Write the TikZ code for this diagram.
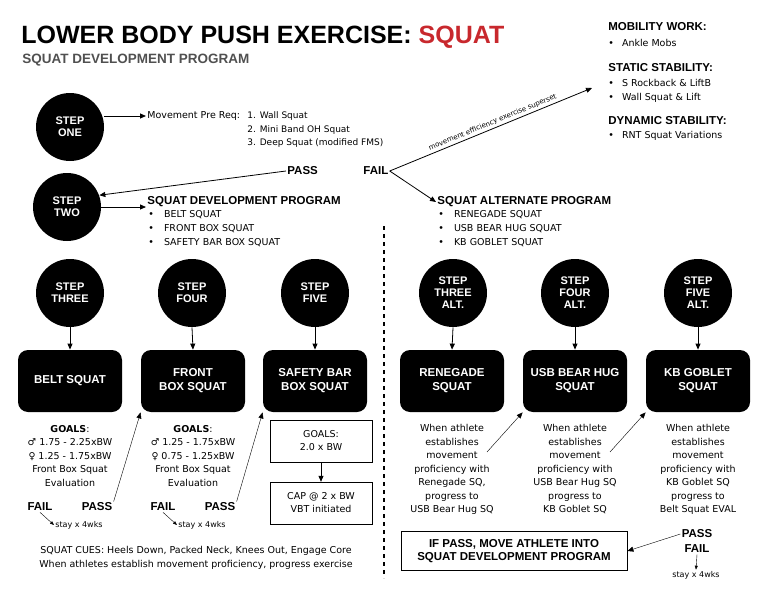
\documentclass[tikz,border=0pt]{standalone}
\usepackage{fontspec}
\setmainfont{DejaVu Sans}
\newfontfamily\headfont{Liberation Sans}
\usetikzlibrary{arrows.meta,positioning,calc}
\definecolor{titlered}{RGB}{200,40,45}
\definecolor{subgray}{RGB}{80,80,80}
\begin{document}
\begin{tikzpicture}[x=1pt, y=-1pt, >={Triangle[length=6pt,width=5pt]}, thick,
  stepnode/.style={circle, fill=black, minimum size=68pt, inner sep=0pt, text=white, align=center, font=\headfont\bfseries\fontsize{11}{12}\selectfont},
  ex/.style={rounded corners=10pt, fill=black, minimum width=104pt, minimum height=62pt, text=white, align=center, font=\headfont\bfseries\fontsize{11.5}{14}\selectfont},
  txt/.style={font=\fontsize{9.5}{13.5}\selectfont, align=center, inner sep=1pt},
  lft/.style={font=\fontsize{9.5}{13.5}\selectfont, align=left, anchor=west, inner sep=1pt},
  hd/.style={font=\headfont\bfseries\fontsize{11.5}{13}\selectfont, anchor=west, inner sep=1pt},
  goal/.style={draw, thin, minimum width=102pt, minimum height=42pt, align=center, font=\fontsize{9.5}{13}\selectfont}]
\useasboundingbox (0,0) rectangle (768,594);
% header
\node[anchor=west, inner sep=0pt, font=\headfont\bfseries\fontsize{25}{28}\selectfont] (title) at (21,37) {LOWER BODY PUSH EXERCISE: \textcolor{titlered}{SQUAT}};
\node[anchor=west, inner sep=0pt, text=subgray, font=\headfont\bfseries\fontsize{13.5}{15}\selectfont] (sub) at (22,60) {SQUAT DEVELOPMENT PROGRAM};
\node[hd] (mob) at (607,27) {MOBILITY WORK:};
\node[lft] (mobl) at (607,43) {\textbullet\hspace{8pt}Ankle Mobs};
\node[hd] (stat) at (607,68) {STATIC STABILITY:};
\node[lft, font=\fontsize{9.5}{14}\selectfont] (statl) at (607,91) {\textbullet\hspace{8pt}S Rockback \& LiftB\\\textbullet\hspace{8pt}Wall Squat \& Lift};
\node[hd] (dyn) at (607,121) {DYNAMIC STABILITY:};
\node[lft] (dynl) at (607,136) {\textbullet\hspace{8pt}RNT Squat Variations};
% step one and two
\node[stepnode] (one) at (70,127) {STEP\\ONE};
\node[lft] (prereq) at (146,116) {Movement Pre Req:};
\node[lft, font=\fontsize{9}{13.5}\selectfont] (reqs) at (246,130) {1. Wall Squat\\2. Mini Band OH Squat\\3. Deep Squat (modified FMS)};
\draw[->] (one.east |- prereq.west) -- (prereq.west);
\node[hd] (pass) at (286,171) {PASS};
\node[hd] (fail) at (362,171) {FAIL};
\node[stepnode] (two) at (67,207) {STEP\\TWO};
\coordinate (super) at (592,88);
\draw[->] (pass.west) -- (two.20);
\draw[->] (fail.east) -- (super) node[pos=0.52, sloped, above, inner sep=2pt, font=\fontsize{7}{8}\selectfont] {movement efficiency exercise superset};
\node[hd] (dev) at (146,202) {SQUAT DEVELOPMENT PROGRAM};
\node[lft, font=\fontsize{9.5}{14}\selectfont] (devl) at (147,229) {\textbullet\hspace{10pt}BELT SQUAT\\\textbullet\hspace{10pt}FRONT BOX SQUAT\\\textbullet\hspace{10pt}SAFETY BAR BOX SQUAT};
\node[hd] (alt) at (436,202) {SQUAT ALTERNATE PROGRAM};
\node[lft, font=\fontsize{9.5}{14}\selectfont] (altl) at (437,229) {\textbullet\hspace{10pt}RENEGADE SQUAT\\\textbullet\hspace{10pt}USB BEAR HUG SQUAT\\\textbullet\hspace{10pt}KB GOBLET SQUAT};
\draw[->] (two.east) -- (dev.west |- two.east);
\draw[->] (fail.east) -- (alt.west);
% divider
\draw[line width=2.5pt, dash pattern=on 4pt off 4pt] (384,226) -- (384,578);
% development steps
\node[stepnode] (three) at (70,293) {STEP\\THREE};
\node[stepnode] (four) at (192,293) {STEP\\FOUR};
\node[stepnode] (five) at (315,293) {STEP\\FIVE};
\node[ex] (belt) at (70,381) {BELT SQUAT};
\node[ex] (front) at (193,381) {FRONT\\BOX SQUAT};
\node[ex] (safety) at (315,381) {SAFETY BAR\\BOX SQUAT};
\foreach \s/\e in {three/belt,four/front,five/safety}
  \draw[->] (\s.south) -- (\e.north);
% alternate steps
\node[stepnode] (threealt) at (453,293) {STEP\\THREE\\ALT.};
\node[stepnode] (fouralt) at (575,293) {STEP\\FOUR\\ALT.};
\node[stepnode] (fivealt) at (698,293) {STEP\\FIVE\\ALT.};
\node[ex] (renegade) at (452,381) {RENEGADE\\SQUAT};
\node[ex] (usb) at (575,381) {USB BEAR HUG\\SQUAT};
\node[ex] (goblet) at (698,381) {KB GOBLET\\SQUAT};
\foreach \s/\e in {threealt/renegade,fouralt/usb,fivealt/goblet}
  \draw[->] (\s.south) -- (\e.north);
% goals
\node[txt, anchor=north] (goalone) at (70,424) {\textbf{GOALS}:\\♂ 1.75 - 2.25xBW\\♀ 1.25 - 1.75xBW\\Front Box Squat\\Evaluation};
\node[txt, anchor=north] (goaltwo) at (193,424) {\textbf{GOALS}:\\♂ 1.25 - 1.75xBW\\♀ 0.75 - 1.25xBW\\Front Box Squat\\Evaluation};
\node[goal] (goalthree) at (321,441) {GOALS:\\2.0 x BW};
\node[goal] (cap) at (321,503) {CAP @ 2 x BW\\VBT initiated};
\draw[->] (goalthree) -- (cap);
\foreach \c/\n/\t in {40/failone/belt, 163/failtwo/front}{
  \node[hd, anchor=center] (\n) at (\c,507) {FAIL};
  \node[font=\fontsize{8}{9}\selectfont, anchor=west, inner sep=1pt] (stay\n) at (\c+14,525) {stay x 4wks};
  \draw[thin, ->, >={Triangle[length=4pt,width=3pt]}] (\n.south) -- (stay\n.west);
}
\node[hd, anchor=center] (passone) at (97,507) {PASS};
\node[hd, anchor=center] (passtwo) at (220,507) {PASS};
\draw[thin, ->] (passone.north east) -- (front.south west);
\draw[thin, ->] (passtwo.north east) -- (safety.south west);
\node[txt] (cues) at (196,558) {SQUAT CUES: Heels Down, Packed Neck, Knees Out, Engage Core\\When athletes establish movement proficiency, progress exercise};
% alternate progressions
\node[txt, anchor=north] (progone) at (452,423) {When athlete\\establishes\\movement\\proficiency with\\Renegade SQ,\\progress to\\USB Bear Hug SQ};
\node[txt, anchor=north] (progtwo) at (575,423) {When athlete\\establishes\\movement\\proficiency with\\USB Bear Hug SQ\\progress to\\KB Goblet SQ};
\node[txt, anchor=north] (progthree) at (698,423) {When athlete\\establishes\\movement\\proficiency with\\KB Goblet SQ\\progress to\\Belt Squat EVAL};
\coordinate (arrone) at (487,452);
\coordinate (arrtwo) at (610,452);
\draw[thin, ->] (arrone) -- (usb.south west);
\draw[thin, ->] (arrtwo) -- (goblet.south west);
\node[draw, thick, minimum width=226pt, minimum height=39pt, align=center, font=\headfont\bfseries\fontsize{11.5}{13}\selectfont] (ifpass) at (514,551) {IF PASS, MOVE ATHLETE INTO\\SQUAT DEVELOPMENT PROGRAM};
\node[hd, anchor=center] (passalt) at (697,534) {PASS};
\node[hd, anchor=center] (failalt) at (697,549) {FAIL};
\node[font=\fontsize{8}{9}\selectfont, inner sep=1pt] (stayalt) at (696,575) {stay x 4wks};
\draw[thin, ->] (passalt.west) -- (ifpass.east);
\draw[thin, ->, >={Triangle[length=4pt,width=3pt]}] (failalt.south) -- (stayalt.north);
\end{tikzpicture}
\end{document}
